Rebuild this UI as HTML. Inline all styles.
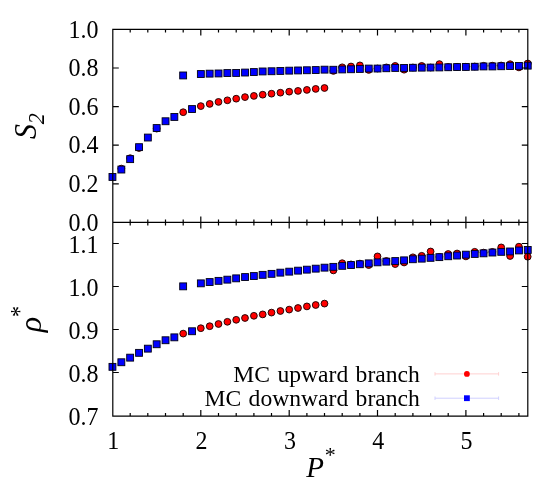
<!DOCTYPE html>
<html><head><meta charset="utf-8"><title>plot</title>
<style>
html,body{margin:0;padding:0;background:#fff;}
svg{display:block;}
text{font-family:"Liberation Serif",serif;fill:#000;}
.t{font-size:24px;}
.lg{font-size:23.6px;word-spacing:1.5px;}
.i{font-size:30px;font-style:italic;}
.s{font-size:24px;}
</style></head><body>
<svg width="550" height="492" viewBox="0 0 550 492">
<rect width="550" height="492" fill="#fff"/>

<g fill="#f00" stroke="#100" stroke-width="0.9">
<circle cx="121.3" cy="168.6" r="3.4"/>
<circle cx="130.2" cy="158.2" r="3.4"/>
<circle cx="139.0" cy="148.0" r="3.4"/>
<circle cx="156.7" cy="128.6" r="3.4"/>
<circle cx="183.2" cy="112.2" r="3.4"/>
<circle cx="200.8" cy="106.1" r="3.4"/>
<circle cx="209.7" cy="103.9" r="3.4"/>
<circle cx="218.5" cy="101.9" r="3.4"/>
<circle cx="227.4" cy="100.3" r="3.4"/>
<circle cx="236.2" cy="98.7" r="3.4"/>
<circle cx="245.0" cy="97.1" r="3.4"/>
<circle cx="253.9" cy="95.9" r="3.4"/>
<circle cx="262.7" cy="94.7" r="3.4"/>
<circle cx="271.5" cy="93.7" r="3.4"/>
<circle cx="280.4" cy="92.7" r="3.4"/>
<circle cx="289.2" cy="91.7" r="3.4"/>
<circle cx="298.0" cy="90.9" r="3.4"/>
<circle cx="306.9" cy="89.9" r="3.4"/>
<circle cx="315.7" cy="88.9" r="3.4"/>
<circle cx="324.5" cy="88.0" r="3.4"/>
<circle cx="333.4" cy="70.9" r="3.4"/>
<circle cx="342.2" cy="67.3" r="3.4"/>
<circle cx="351.0" cy="66.5" r="3.4"/>
<circle cx="359.9" cy="65.4" r="3.4"/>
<circle cx="368.7" cy="69.9" r="3.4"/>
<circle cx="377.5" cy="68.5" r="3.4"/>
<circle cx="386.4" cy="67.4" r="3.4"/>
<circle cx="395.2" cy="65.9" r="3.4"/>
<circle cx="404.1" cy="69.7" r="3.4"/>
<circle cx="412.9" cy="67.5" r="3.4"/>
<circle cx="421.7" cy="65.9" r="3.4"/>
<circle cx="430.6" cy="67.5" r="3.4"/>
<circle cx="439.4" cy="64.1" r="3.4"/>
<circle cx="448.2" cy="67.0" r="3.4"/>
<circle cx="457.1" cy="66.8" r="3.4"/>
<circle cx="465.9" cy="66.7" r="3.4"/>
<circle cx="474.7" cy="66.5" r="3.4"/>
<circle cx="483.6" cy="65.8" r="3.4"/>
<circle cx="492.4" cy="65.7" r="3.4"/>
<circle cx="501.2" cy="65.5" r="3.4"/>
<circle cx="510.1" cy="64.2" r="3.4"/>
<circle cx="518.9" cy="67.4" r="3.4"/>
<circle cx="527.7" cy="63.5" r="3.4"/>
<circle cx="183.2" cy="333.6" r="3.4"/>
<circle cx="200.8" cy="328.2" r="3.4"/>
<circle cx="209.7" cy="326.2" r="3.4"/>
<circle cx="218.5" cy="324.0" r="3.4"/>
<circle cx="227.4" cy="321.8" r="3.4"/>
<circle cx="236.2" cy="319.8" r="3.4"/>
<circle cx="245.0" cy="318.0" r="3.4"/>
<circle cx="253.9" cy="315.8" r="3.4"/>
<circle cx="262.7" cy="314.4" r="3.4"/>
<circle cx="271.5" cy="312.6" r="3.4"/>
<circle cx="280.4" cy="311.0" r="3.4"/>
<circle cx="289.2" cy="309.6" r="3.4"/>
<circle cx="298.0" cy="308.0" r="3.4"/>
<circle cx="306.9" cy="306.4" r="3.4"/>
<circle cx="315.7" cy="305.0" r="3.4"/>
<circle cx="324.5" cy="303.6" r="3.4"/>
<circle cx="333.4" cy="270.4" r="3.4"/>
<circle cx="342.2" cy="263.2" r="3.4"/>
<circle cx="351.0" cy="264.4" r="3.4"/>
<circle cx="359.9" cy="263.6" r="3.4"/>
<circle cx="368.7" cy="265.1" r="3.4"/>
<circle cx="377.5" cy="256.4" r="3.4"/>
<circle cx="386.4" cy="261.0" r="3.4"/>
<circle cx="395.2" cy="264.1" r="3.4"/>
<circle cx="404.1" cy="262.5" r="3.4"/>
<circle cx="412.9" cy="257.3" r="3.4"/>
<circle cx="421.7" cy="255.8" r="3.4"/>
<circle cx="430.6" cy="251.5" r="3.4"/>
<circle cx="439.4" cy="256.9" r="3.4"/>
<circle cx="448.2" cy="254.0" r="3.4"/>
<circle cx="457.1" cy="253.5" r="3.4"/>
<circle cx="465.9" cy="256.4" r="3.4"/>
<circle cx="474.7" cy="251.8" r="3.4"/>
<circle cx="483.6" cy="252.6" r="3.4"/>
<circle cx="492.4" cy="251.9" r="3.4"/>
<circle cx="501.2" cy="247.4" r="3.4"/>
<circle cx="510.1" cy="256.0" r="3.4"/>
<circle cx="518.9" cy="246.7" r="3.4"/>
<circle cx="527.7" cy="256.7" r="3.4"/>
</g>
<g fill="#00f" stroke="#001" stroke-width="0.9">
<rect x="109.0" y="173.5" width="6.9" height="6.9"/>
<rect x="117.9" y="166.1" width="6.9" height="6.9"/>
<rect x="126.7" y="155.7" width="6.9" height="6.9"/>
<rect x="135.6" y="143.7" width="6.9" height="6.9"/>
<rect x="144.4" y="134.1" width="6.9" height="6.9"/>
<rect x="153.2" y="124.6" width="6.9" height="6.9"/>
<rect x="162.1" y="117.8" width="6.9" height="6.9"/>
<rect x="170.9" y="113.5" width="6.9" height="6.9"/>
<rect x="179.7" y="72.0" width="6.9" height="6.9"/>
<rect x="188.6" y="105.6" width="6.9" height="6.9"/>
<rect x="197.4" y="70.6" width="6.9" height="6.9"/>
<rect x="206.2" y="70.2" width="6.9" height="6.9"/>
<rect x="215.1" y="70.0" width="6.9" height="6.9"/>
<rect x="223.9" y="69.6" width="6.9" height="6.9"/>
<rect x="232.7" y="69.5" width="6.9" height="6.9"/>
<rect x="241.6" y="69.1" width="6.9" height="6.9"/>
<rect x="250.4" y="68.6" width="6.9" height="6.9"/>
<rect x="259.2" y="68.0" width="6.9" height="6.9"/>
<rect x="268.1" y="67.8" width="6.9" height="6.9"/>
<rect x="276.9" y="67.5" width="6.9" height="6.9"/>
<rect x="285.8" y="67.2" width="6.9" height="6.9"/>
<rect x="294.6" y="67.0" width="6.9" height="6.9"/>
<rect x="303.4" y="66.8" width="6.9" height="6.9"/>
<rect x="312.3" y="66.6" width="6.9" height="6.9"/>
<rect x="321.1" y="66.2" width="6.9" height="6.9"/>
<rect x="329.9" y="66.3" width="6.9" height="6.9"/>
<rect x="338.8" y="66.0" width="6.9" height="6.9"/>
<rect x="347.6" y="65.8" width="6.9" height="6.9"/>
<rect x="356.4" y="65.5" width="6.9" height="6.9"/>
<rect x="365.3" y="65.1" width="6.9" height="6.9"/>
<rect x="374.1" y="65.1" width="6.9" height="6.9"/>
<rect x="382.9" y="64.8" width="6.9" height="6.9"/>
<rect x="391.8" y="64.5" width="6.9" height="6.9"/>
<rect x="400.6" y="64.5" width="6.9" height="6.9"/>
<rect x="409.4" y="64.3" width="6.9" height="6.9"/>
<rect x="418.3" y="64.2" width="6.9" height="6.9"/>
<rect x="427.1" y="64.1" width="6.9" height="6.9"/>
<rect x="435.9" y="64.0" width="6.9" height="6.9"/>
<rect x="444.8" y="63.8" width="6.9" height="6.9"/>
<rect x="453.6" y="63.6" width="6.9" height="6.9"/>
<rect x="462.4" y="63.5" width="6.9" height="6.9"/>
<rect x="471.3" y="63.3" width="6.9" height="6.9"/>
<rect x="480.1" y="63.0" width="6.9" height="6.9"/>
<rect x="489.0" y="63.0" width="6.9" height="6.9"/>
<rect x="497.8" y="62.8" width="6.9" height="6.9"/>
<rect x="506.6" y="62.6" width="6.9" height="6.9"/>
<rect x="515.5" y="62.5" width="6.9" height="6.9"/>
<rect x="524.3" y="62.2" width="6.9" height="6.9"/>
<rect x="109.0" y="363.4" width="6.9" height="6.9"/>
<rect x="117.9" y="358.8" width="6.9" height="6.9"/>
<rect x="126.7" y="354.2" width="6.9" height="6.9"/>
<rect x="135.6" y="349.4" width="6.9" height="6.9"/>
<rect x="144.4" y="345.2" width="6.9" height="6.9"/>
<rect x="153.2" y="340.8" width="6.9" height="6.9"/>
<rect x="162.1" y="336.8" width="6.9" height="6.9"/>
<rect x="170.9" y="333.9" width="6.9" height="6.9"/>
<rect x="179.7" y="282.9" width="6.9" height="6.9"/>
<rect x="188.6" y="327.8" width="6.9" height="6.9"/>
<rect x="197.4" y="279.9" width="6.9" height="6.9"/>
<rect x="206.2" y="278.6" width="6.9" height="6.9"/>
<rect x="215.1" y="277.4" width="6.9" height="6.9"/>
<rect x="223.9" y="276.2" width="6.9" height="6.9"/>
<rect x="232.7" y="274.9" width="6.9" height="6.9"/>
<rect x="241.6" y="273.6" width="6.9" height="6.9"/>
<rect x="250.4" y="272.6" width="6.9" height="6.9"/>
<rect x="259.2" y="271.4" width="6.9" height="6.9"/>
<rect x="268.1" y="270.4" width="6.9" height="6.9"/>
<rect x="276.9" y="269.2" width="6.9" height="6.9"/>
<rect x="285.8" y="268.2" width="6.9" height="6.9"/>
<rect x="294.6" y="267.2" width="6.9" height="6.9"/>
<rect x="303.4" y="266.2" width="6.9" height="6.9"/>
<rect x="312.3" y="265.2" width="6.9" height="6.9"/>
<rect x="321.1" y="264.2" width="6.9" height="6.9"/>
<rect x="329.9" y="263.4" width="6.9" height="6.9"/>
<rect x="338.8" y="262.4" width="6.9" height="6.9"/>
<rect x="347.6" y="261.6" width="6.9" height="6.9"/>
<rect x="356.4" y="260.8" width="6.9" height="6.9"/>
<rect x="365.3" y="259.9" width="6.9" height="6.9"/>
<rect x="374.1" y="258.9" width="6.9" height="6.9"/>
<rect x="382.9" y="258.2" width="6.9" height="6.9"/>
<rect x="391.8" y="257.6" width="6.9" height="6.9"/>
<rect x="400.6" y="256.9" width="6.9" height="6.9"/>
<rect x="409.4" y="255.8" width="6.9" height="6.9"/>
<rect x="418.3" y="255.2" width="6.9" height="6.9"/>
<rect x="427.1" y="254.4" width="6.9" height="6.9"/>
<rect x="435.9" y="253.7" width="6.9" height="6.9"/>
<rect x="444.8" y="252.8" width="6.9" height="6.9"/>
<rect x="453.6" y="252.1" width="6.9" height="6.9"/>
<rect x="462.4" y="251.2" width="6.9" height="6.9"/>
<rect x="471.3" y="250.5" width="6.9" height="6.9"/>
<rect x="480.1" y="249.9" width="6.9" height="6.9"/>
<rect x="489.0" y="249.1" width="6.9" height="6.9"/>
<rect x="497.8" y="248.4" width="6.9" height="6.9"/>
<rect x="506.6" y="248.0" width="6.9" height="6.9"/>
<rect x="515.5" y="247.0" width="6.9" height="6.9"/>
<rect x="524.3" y="246.5" width="6.9" height="6.9"/>
</g>
<g stroke-width="1" fill="none"><path stroke="#ffd0d0" d="M435 373.9H498.6M435 372.2v3.4M498.6 372.2v3.4"/><path stroke="#d0d0ff" d="M435 398.2H498.6M435 396.5v3.4M498.6 396.5v3.4"/></g>
<circle cx="466.9" cy="373.9" r="2.9" fill="#f00"/><rect x="464.0" y="395.3" width="5.8" height="5.8" fill="#00f"/>
<text class="t lg" transform="translate(419.8,381.8)" text-anchor="end">MC upward branch</text>
<text class="t lg" transform="translate(419.8,405.8)" text-anchor="end">MC downward branch</text>
<path d="M112.8 29.4H527.8V416.1H112.8Z M112.8 222.4H527.8 M130.2 29.4v3 M130.2 219.4v6 M130.2 416.1v-3 M147.8 29.4v3 M147.8 219.4v6 M147.8 416.1v-3 M165.5 29.4v3 M165.5 219.4v6 M165.5 416.1v-3 M183.2 29.4v3 M183.2 219.4v6 M183.2 416.1v-3 M200.8 29.4v6 M200.8 216.4v12 M200.8 416.1v-6 M218.5 29.4v3 M218.5 219.4v6 M218.5 416.1v-3 M236.2 29.4v3 M236.2 219.4v6 M236.2 416.1v-3 M253.9 29.4v3 M253.9 219.4v6 M253.9 416.1v-3 M271.5 29.4v3 M271.5 219.4v6 M271.5 416.1v-3 M289.2 29.4v6 M289.2 216.4v12 M289.2 416.1v-6 M306.9 29.4v3 M306.9 219.4v6 M306.9 416.1v-3 M324.5 29.4v3 M324.5 219.4v6 M324.5 416.1v-3 M342.2 29.4v3 M342.2 219.4v6 M342.2 416.1v-3 M359.9 29.4v3 M359.9 219.4v6 M359.9 416.1v-3 M377.5 29.4v6 M377.5 216.4v12 M377.5 416.1v-6 M395.2 29.4v3 M395.2 219.4v6 M395.2 416.1v-3 M412.9 29.4v3 M412.9 219.4v6 M412.9 416.1v-3 M430.6 29.4v3 M430.6 219.4v6 M430.6 416.1v-3 M448.2 29.4v3 M448.2 219.4v6 M448.2 416.1v-3 M465.9 29.4v6 M465.9 216.4v12 M465.9 416.1v-6 M483.6 29.4v3 M483.6 219.4v6 M483.6 416.1v-3 M501.2 29.4v3 M501.2 219.4v6 M501.2 416.1v-3 M518.9 29.4v3 M518.9 219.4v6 M518.9 416.1v-3 M112.8 183.8h6M527.8 183.8h-6 M112.8 145.2h6M527.8 145.2h-6 M112.8 106.6h6M527.8 106.6h-6 M112.8 68.0h6M527.8 68.0h-6 M112.8 372.5h6M527.8 372.5h-6 M112.8 329.5h6M527.8 329.5h-6 M112.8 286.5h6M527.8 286.5h-6 M112.8 243.5h6M527.8 243.5h-6" fill="none" stroke="#000" stroke-width="1.2"/>
<text class="t" transform="translate(98.4,230.6) scale(1,1.06)" text-anchor="end">0.0</text>
<text class="t" transform="translate(98.4,192.0) scale(1,1.06)" text-anchor="end">0.2</text>
<text class="t" transform="translate(98.4,153.4) scale(1,1.06)" text-anchor="end">0.4</text>
<text class="t" transform="translate(98.4,114.8) scale(1,1.06)" text-anchor="end">0.6</text>
<text class="t" transform="translate(98.4,76.2) scale(1,1.06)" text-anchor="end">0.8</text>
<text class="t" transform="translate(98.4,37.6) scale(1,1.06)" text-anchor="end">1.0</text>
<text class="t" transform="translate(98.4,424.5) scale(1,1.06)" text-anchor="end">0.7</text>
<text class="t" transform="translate(98.4,381.5) scale(1,1.06)" text-anchor="end">0.8</text>
<text class="t" transform="translate(98.4,338.5) scale(1,1.06)" text-anchor="end">0.9</text>
<text class="t" transform="translate(98.4,295.5) scale(1,1.06)" text-anchor="end">1.0</text>
<text class="t" transform="translate(98.4,252.5) scale(1,1.06)" text-anchor="end">1.1</text>
<text class="t" transform="translate(113.2,448.7) scale(1,1.06)" text-anchor="middle">1</text>
<text class="t" transform="translate(201.5,448.7) scale(1,1.06)" text-anchor="middle">2</text>
<text class="t" transform="translate(289.9,448.7) scale(1,1.06)" text-anchor="middle">3</text>
<text class="t" transform="translate(378.2,448.7) scale(1,1.06)" text-anchor="middle">4</text>
<text class="t" transform="translate(466.6,448.7) scale(1,1.06)" text-anchor="middle">5</text>
<text class="i" transform="translate(36.2,139) scale(1.045,1) rotate(-90)">S<tspan dy="7.6" dx="-0.2" style="font-size:22px">2</tspan></text>
<text class="i" style="font-size:32px" transform="translate(40.8,332.3) rotate(-90)">ρ</text>
<text class="s" style="font-size:22px" transform="translate(28.2,317.0) scale(1.15,1) rotate(-90)">*</text>
<text class="i" x="306.2" y="476.5" style="font-size:29px">P<tspan dy="-14.5" dx="0.9" style="font-style:normal;font-size:22px">*</tspan></text>
</svg></body></html>
